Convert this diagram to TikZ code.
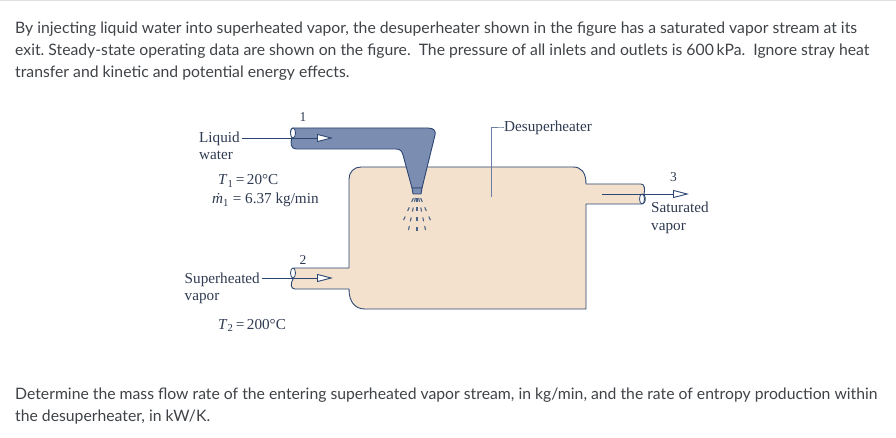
\documentclass[tikz,border=0pt]{standalone}
\usepackage{fontspec}
\setmainfont{Liberation Serif}
\newfontfamily\latofont{Lato}
\usepackage{xcolor}
\usetikzlibrary{arrows.meta,positioning,shapes.geometric}
\definecolor{txtgray}{HTML}{3F4347}
\definecolor{navy}{HTML}{2C4672}
\definecolor{tank}{HTML}{F3E1CD}
\definecolor{pipe}{HTML}{7B8DB0}
\definecolor{figtxt}{HTML}{2F3B52}

\begin{document}
\begin{tikzpicture}[x=1pt,y=-1pt]
\tikzstyle{para}=[anchor=base west, inner sep = 0 pt, text=txtgray, font=\latofont\fontsize{15.75}{22}\selectfont\frenchspacing, align=left]
\tikzstyle{lbl}=[anchor=base west, inner sep = 0 pt, text=figtxt, font=\fontsize{15.2}{18}\selectfont, align=left]
\tikzstyle{num}=[anchor=base, inner sep = 0 pt, text=figtxt, font=\fontsize{13.5}{14}\selectfont]
\tikzstyle{wall}=[draw=navy, line width=0.9pt, line join=round]
\tikzstyle{flow}=[navy, line width=0.9pt, -{Triangle[length=16pt,width=8pt,fill=white]}]
\tikzstyle{lead}=[navy, line width=0.9pt]
\tikzstyle{port}=[draw=navy, fill=white, line width=0.8pt, ellipse, minimum width=5pt, minimum height=10pt, inner sep=0pt]

\useasboundingbox (0,0) rectangle (896,438);
\fill[white] (0,0) rectangle (896,438);
\draw[black!12, line width=1pt] (0,1) -- (896,1);

\node[para] (top) at (15,78) {By injecting liquid water into superheated vapor, the desuperheater shown in the figure has a saturated vapor stream at its\\
exit. Steady-state operating data are shown on the figure.~ The pressure of all inlets and outlets is 600\,kPa.~ Ignore stray heat\\
transfer and kinetic and potential energy effects.};
\node[para] (ask) at (15,421) {Determine the mass flow rate of the entering superheated vapor stream, in kg/min, and the rate of entropy production within\\
the desuperheater, in kW/K.};

% tank with the stubs of 2 and 3
\draw[wall, fill=tank] (291,273) .. controls (291,270) and (292,268) .. (295,268) -- (349,268) -- (349,179)
  .. controls (349,172) and (354,167) .. (361,167) -- (573,167)
  .. controls (581,167) and (586,172) .. (586,184) -- (641,184)
  .. controls (645,184) and (645,190) .. (644,194) .. controls (646,198) and (646,204) .. (641,204)
  -- (586,204) -- (586,309) -- (365,309)
  .. controls (355,309) and (349,302) .. (349,289) -- (295,289)
  .. controls (291,289) and (290,284) .. (293,279) .. controls (292,277) and (291,275) .. (291,273) -- cycle;

% spray
\foreach \ang/\rad in {-24/9,-24/19,-24/29,-12/8,-12/18,-12/28,-12/37,0/8,0/17,0/27,0/37,12/8,12/18,12/28,12/37,24/9,24/19,24/29}
  \draw[navy!85, line width=1.1pt] (417,190) ++(90+\ang:\rad) -- ++(90+\ang:4);

% water pipe
\draw[wall, fill=pipe] (293,128) -- (428,128) .. controls (434,128) and (436,131) .. (435,135)
  -- (422,188) -- (412,188) -- (403,155) .. controls (402,151) and (400,149) .. (396,149) -- (296,149)
  .. controls (291,149) and (290,143) .. (292,138) .. controls (290,134) and (290,128) .. (293,128) -- cycle;
\draw[wall, fill=pipe] (412,188) -- (422,188) -- (421,194) -- (413,194) -- cycle;

\node[port] (inA) at (293,133) {};
\node[port] (inB) at (293,273) {};
\node[port] (outC) at (642,199) {};

\node[lbl] (liquid) at (199,143) {Liquid};
\node[lbl] (water) at (199,160) {water};
\node[lbl] (steam) at (184.5,283) {Superheated};
\node[lbl] (vapor) at (184.5,300) {vapor};
\node[lbl] (sat) at (651,213) {Saturated};
\node[lbl] (satv) at (651,231) {vapor};
\node[lbl] (desup) at (504,132) {Desuperheater};

\node[num] (one) at (303,122) {1};
\node[num] (two) at (303,264) {2};
\node[num] (three) at (673.5,182) {3};

\node[lbl] (tA) at (218,185) {\textit{T}\textsubscript{1}\hspace{2.5pt}=\hspace{2.5pt}20°C};
\node[lbl] (mA) at (212,204) {\textit{\.m}\textsubscript{1} = 6.37 kg/min};
\node[lbl] (tB) at (218,329) {\textit{T}\textsubscript{2}\hspace{2.5pt}=\hspace{2.5pt}200°C};

\coordinate (tipA) at (333,138);
\coordinate (tipB) at (333,278);
\coordinate (startC) at (602,194);
\coordinate (tipC) at (689,194);
\coordinate (footD) at (491,197);
\coordinate (kneeD) at (491,127);

\draw[flow] (liquid.east |- tipA) ++(2,0) coordinate (fromA) -- (tipA);
\draw[flow] (steam.east |- tipB) ++(2,0) coordinate (fromB) -- (tipB);
\draw[flow] (startC) -- (tipC);
\draw[lead, pipe!80!navy] (footD) -- (kneeD) -- (desup.west |- kneeD) -- ++(-1,0);
\end{tikzpicture}
\end{document}
